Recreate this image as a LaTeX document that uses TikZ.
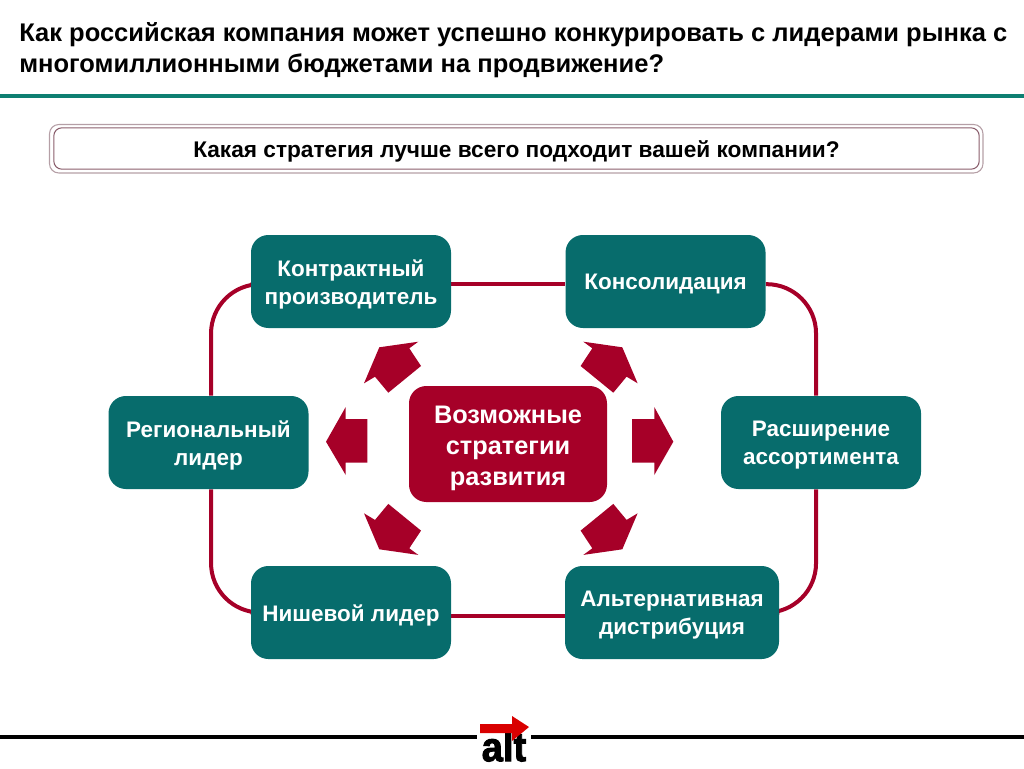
\documentclass[tikz,border=0pt]{standalone}
\usepackage{fontspec}
\setmainfont{Liberation Sans}
\newfontfamily\logofont{Liberation Sans}[BoldFeatures={FakeBold=2.5}]
\usepackage{xcolor}
\usetikzlibrary{positioning, backgrounds}
\definecolor{tealbox}{HTML}{076C6C}
\definecolor{tealrule}{HTML}{0E7F72}
\definecolor{crimson}{HTML}{A60028}
\definecolor{framedark}{HTML}{8A5E6C}
\definecolor{framelight}{HTML}{B59FA6}
\newcommand{\boxlines}[2][2.25pt]{\raisebox{-#1}[\height][\depth]{\parbox[c]{145pt}{\centering #2}}}
\tikzset{
  stratbox/.style={rectangle, fill=tealbox, text=white, rounded corners=13pt, inner sep=0pt,
    minimum width=150pt, minimum height=69.75pt, align=center,
    font=\fontsize{16.85}{21}\selectfont\bfseries},
  ringline/.style={draw=crimson, line width=3pt, rounded corners=37pt},
  titletext/.style={anchor=west, font=\fontsize{19.14}{23.2}\selectfont\bfseries, align=left, inner sep=0pt}
}
\begin{document}
\begin{tikzpicture}[x=0.75pt, y=-0.75pt]
\useasboundingbox (0,0) rectangle (1024,768);
\node (title) [titletext] at (19,50) {Как российская компания может успешно конкурировать с лидерами рынка с\\многомиллионными бюджетами на продвижение?};
\coordinate (RuleL) at (0,96);
\coordinate (RuleR) at (1024,96);
\draw[tealrule, line width=3pt] (RuleL) -- (RuleR);

\draw[framelight, line width=0.8pt, rounded corners=7pt] (49.5,124.5) rectangle (983,173);
\node (question) [draw=framedark, line width=0.8pt, rounded corners=6pt, minimum width=694pt, minimum height=31pt, inner sep=0pt,
  font=\fontsize{17}{20}\selectfont\bfseries] at (516.5,148.5) {\raisebox{-2.25pt}[\height][\depth]{Какая стратегия лучше всего подходит вашей компании?}};

\node (Kontr) [stratbox] at (351,281.5) {\boxlines{Контрактный\\производитель}};
\node (Kons) [stratbox, right of=Kontr, node distance=235.9pt] {\boxlines{Консолидация}};
\node (Nish) [stratbox, below of=Kontr, node distance=248.25pt] {\boxlines{Нишевой лидер}};
\node (Alt) [stratbox, right of=Nish, node distance=240.75pt, minimum width=160.5pt] {\boxlines{Альтернативная\\дистрибуция}};
\node (Reg) [stratbox] at (208.5,442.5) {\boxlines{Региональный\\лидер}};
\node (Rass) [stratbox, right of=Reg, node distance=459.4pt] {\boxlines{Расширение\\ассортимента}};
\node (Centre) [rectangle, fill=crimson, text=white, rounded corners=13pt, inner sep=0pt, minimum width=148.5pt, minimum height=87pt,
  align=center, font=\fontsize{19}{23.4}\selectfont\bfseries] at (508,444) {\boxlines[3.5pt]{Возможные\\стратегии\\развития}};

\begin{scope}[on background layer]
\draw[ringline] ([yshift=-2pt]Kontr.east) -- ([yshift=-2pt]Kons.west);
\draw[ringline] ([yshift=-2pt]Kons.east) -| ([xshift=-3.75pt]Rass.north);
\draw[ringline] ([xshift=-3.75pt]Rass.south) |- (Alt.east);
\draw[ringline] ([yshift=-2.6pt]Nish.east) -- ([yshift=-2.6pt]Alt.west);
\draw[ringline] ([yshift=-2pt]Kontr.west) -| ([xshift=1.9pt]Reg.north);
\draw[ringline] ([xshift=1.9pt]Reg.south) |- (Nish.west);
\end{scope}

% straight arrows
\fill[crimson] (326,441.7) -- (345.7,407) -- (345.7,419) -- (367.3,419) -- (367.3,462.7) -- (345.7,462.7) -- (345.7,475) -- cycle;
\fill[crimson] (673.3,441.7) -- (654.3,407) -- (654.3,419) -- (632,419) -- (632,462.7) -- (654.3,462.7) -- (654.3,475) -- cycle;
% slanted arrows
\foreach \sx/\sy in {1/1, -1/1, 1/-1, -1/-1} {
  \fill[crimson, shift={(500.8,448.3)}, xscale=\sx, yscale=\sy]
    (-82.5,-106.6) -- (-121.5,-101) -- (-136.8,-65) -- (-125.8,-71.6) -- (-112.5,-55.6) -- (-79.8,-82.3) -- (-91.5,-100) -- cycle;
}

\coordinate (FootA) at (0,737);
\coordinate (FootB) at (477,737);
\coordinate (FootC) at (531,737);
\coordinate (FootD) at (1024,737);
\draw[black, line width=2.4pt] (FootA) -- (FootB);
\draw[black, line width=2.4pt] (FootC) -- (FootD);
\node (logo) [inner sep=0pt, text=black, xscale=1.02, yscale=1.1, font=\logofont\fontsize{28}{28}\selectfont\bfseries] at (504,746.5) {alt};
\fill[red!85!black] (480,724) -- (512,724) -- (512,716) -- (529,727) -- (512,741) -- (512,733) -- (480,733) -- cycle;
\end{tikzpicture}
\end{document}
